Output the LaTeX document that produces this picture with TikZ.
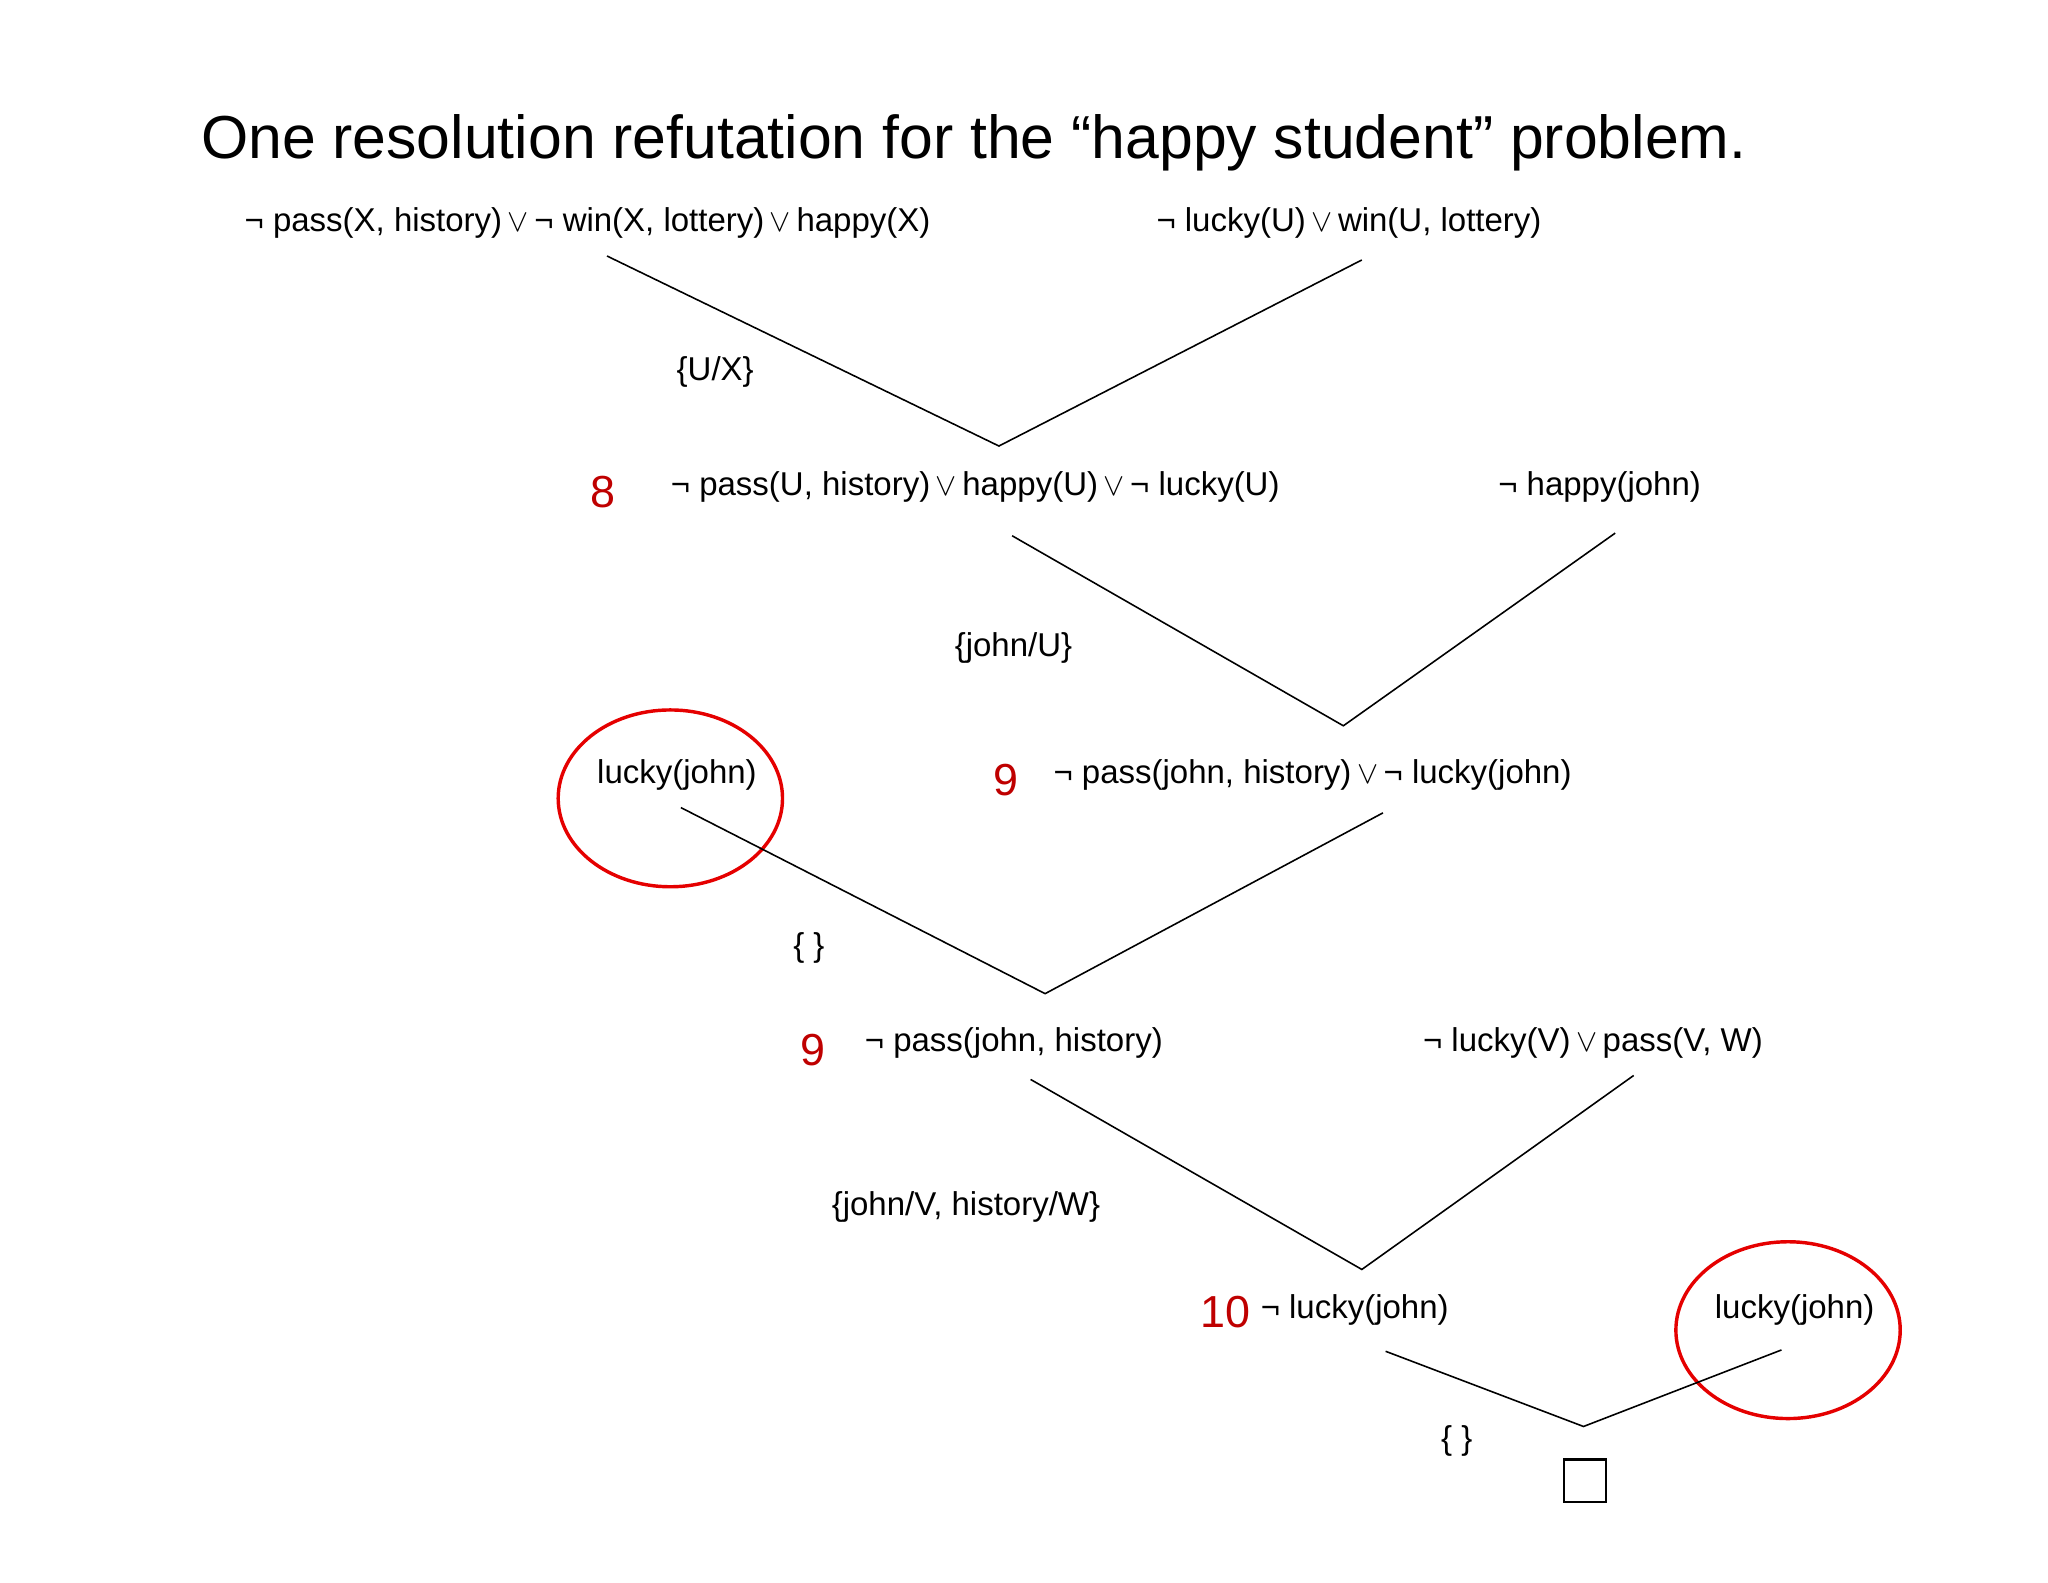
\documentclass[tikz,border=0pt]{standalone}
\usepackage{fontspec}
\setmainfont{Liberation Sans}
\newcommand{\orr}{\,$\vee$\,}
\begin{document}
\begin{tikzpicture}[x=0.5pt,y=-0.5pt,
  cl/.style={font=\fontsize{12.5}{14}\selectfont,inner sep=0pt},
  num/.style={font=\fontsize{17}{19}\selectfont,text=red!75!black,inner sep=0pt},
  ln/.style={line width=0.6pt},
  circ/.style={draw=red!90!black,line width=1.3pt}]
\useasboundingbox (0,0) rectangle (1552,1199);
\node[anchor=west,font=\fontsize{23}{26}\selectfont,inner sep=0pt] (title) at (152,108) {One resolution refutation for the “happy student” problem.};
% row 1
\node[cl,anchor=west] (c1) at (185,169) {¬ pass(X, history)\orr¬ win(X, lottery)\orr happy(X)};
\node[cl,anchor=west] (c2) at (876,169) {¬ lucky(U)\orr win(U, lottery)};
\coordinate (a1) at (460,194); \coordinate (b1) at (757,338); \coordinate (d1) at (1032,197);
\draw[ln] (a1) -- (b1) -- (d1);
\node[cl] (s1) at (542,282) {\{U/X\}};
% row 2
\node[num] (n8) at (457,373) {8};
\node[cl,anchor=west] (c3) at (508,369) {¬ pass(U, history)\orr happy(U)\orr¬ lucky(U)};
\node[cl,anchor=west] (c4) at (1135,369) {¬ happy(john)};
\coordinate (a2) at (767,406); \coordinate (b2) at (1018,550); \coordinate (d2) at (1224,404);
\draw[ln] (a2) -- (b2) -- (d2);
\node[cl] (s2) at (768,491) {\{john/U\}};
% row 3
\node[cl] (c5) at (513,587) {lucky(john)};
\draw[circ] (508,605) ellipse [x radius=85, y radius=67];
\node[num] (n9a) at (762,591) {9};
\node[cl,anchor=west] (c6) at (798,587) {¬ pass(john, history)\orr¬ lucky(john)};
\coordinate (a3) at (516,612); \coordinate (b3) at (792,753); \coordinate (d3) at (1048,616);
\draw[ln] (a3) -- (b3) -- (d3);
\node[cl] (s3) at (613,718) {\{ \}};
% row 4
\node[num] (n9b) at (616,796) {9};
\node[cl,anchor=west] (c7) at (655,790) {¬ pass(john, history)};
\node[cl,anchor=west] (c8) at (1078,790) {¬ lucky(V)\orr pass(V, W)};
\coordinate (a4) at (781,818); \coordinate (b4) at (1032,962); \coordinate (d4) at (1238,815);
\draw[ln] (a4) -- (b4) -- (d4);
\node[cl] (s4) at (732,915) {\{john/V, history/W\}};
% row 5
\node[num] (n10) at (929,994) {10};
\node[cl,anchor=west] (c9) at (955,993) {¬ lucky(john)};
\node[cl] (c10) at (1360,993) {lucky(john)};
\draw[circ] (1355,1008) ellipse [x radius=85, y radius=67];
\coordinate (a5) at (1050,1024); \coordinate (b5) at (1200,1081); \coordinate (d5) at (1350,1023);
\draw[ln] (a5) -- (b5) -- (d5);
\node[cl] (s5) at (1104,1092) {\{ \}};
\node[draw,line width=0.8pt,minimum size=16pt,inner sep=0pt] (box) at (1201,1122) {};
\end{tikzpicture}
\end{document}
